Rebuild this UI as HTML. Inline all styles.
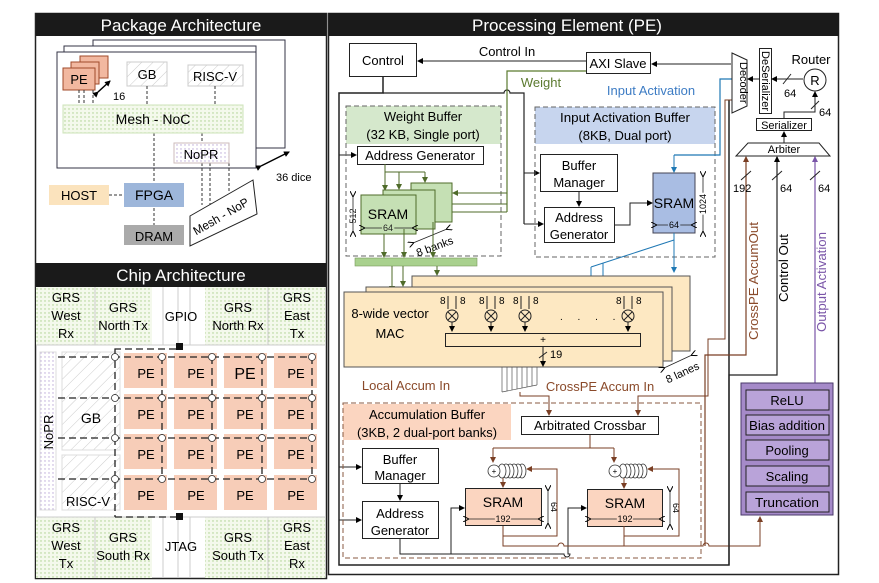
<!DOCTYPE html>
<html><head><meta charset="utf-8"><style>
html,body{margin:0;padding:0;background:#fff;}
svg{display:block;font-family:"Liberation Sans Narrow","Liberation Sans",sans-serif;}
</style></head><body>
<svg width="879" height="583" viewBox="0 0 879 583" xmlns="http://www.w3.org/2000/svg">
<defs>
<pattern id="dots" width="4" height="4" patternUnits="userSpaceOnUse"><rect width="4" height="4" fill="#f4f9ec"/><circle cx="1" cy="1" r="0.7" fill="#a9cf8a"/></pattern>
<pattern id="pdots" width="4" height="4" patternUnits="userSpaceOnUse"><rect width="4" height="4" fill="#fff"/><circle cx="1" cy="1" r="0.7" fill="#b9a6d6"/></pattern>
<pattern id="hatch" width="8" height="8" patternUnits="userSpaceOnUse" patternTransform="rotate(45)"><rect width="8" height="8" fill="#fff"/><line x1="0" y1="0" x2="0" y2="8" stroke="#ccc" stroke-width="1"/></pattern>
<marker id="a" markerWidth="6" markerHeight="6" refX="5" refY="3" orient="auto" markerUnits="userSpaceOnUse"><path d="M0,0 L6,3 L0,6z" fill="#000"/></marker>
<marker id="ag" markerWidth="6" markerHeight="6" refX="5" refY="3" orient="auto" markerUnits="userSpaceOnUse"><path d="M0,0 L6,3 L0,6z" fill="#4f6b2a"/></marker>
<marker id="ab" markerWidth="6" markerHeight="6" refX="5" refY="3" orient="auto" markerUnits="userSpaceOnUse"><path d="M0,0 L6,3 L0,6z" fill="#1f78b4"/></marker>
<marker id="ar" markerWidth="6" markerHeight="6" refX="5" refY="3" orient="auto" markerUnits="userSpaceOnUse"><path d="M0,0 L6,3 L0,6z" fill="#7a3f24"/></marker>
<marker id="ap" markerWidth="6" markerHeight="6" refX="5" refY="3" orient="auto" markerUnits="userSpaceOnUse"><path d="M0,0 L6,3 L0,6z" fill="#7a55a8"/></marker>
<marker id="as" markerWidth="6" markerHeight="6" refX="1" refY="3" orient="auto-start-reverse" markerUnits="userSpaceOnUse"><path d="M6,0 L0,3 L6,6" fill="none" stroke="#000"/></marker>
</defs>

<rect x="35.5" y="13.5" width="291" height="565" fill="#fff" stroke="#222" stroke-width="1.5"/>
<rect x="36" y="13" width="290" height="23" fill="#1a1a1a"/>
<text x="181" y="31" font-size="17" fill="#fff" text-anchor="middle">Package Architecture</text>
<rect x="93" y="40" width="192" height="108" fill="#fff" stroke="#334"/>
<rect x="64" y="46" width="192" height="118" fill="#fff" stroke="#334"/>
<rect x="57" y="52" width="199" height="116" fill="#fff" stroke="#334"/>
<rect x="80" y="56" width="28" height="22" fill="#f2b8a0" stroke="#a04a2a"/>
<rect x="71" y="62" width="28" height="22" fill="#f2b8a0" stroke="#a04a2a"/>
<rect x="63" y="68" width="32" height="22" fill="#f2b8a0" stroke="#a04a2a"/>
<text x="79" y="84" font-size="13" text-anchor="middle">PE</text>
<line x1="98" y1="92" x2="110" y2="81" stroke="#000" stroke-width="1.5" marker-end="url(#a)" marker-start="url(#a)"/>
<text x="113" y="100" font-size="11">16</text>
<rect x="127" y="62" width="40" height="24" fill="url(#hatch)" stroke="#ccc"/>
<text x="147" y="79" font-size="13" text-anchor="middle">GB</text>
<rect x="188" y="65" width="55" height="21" fill="url(#hatch)" stroke="#ccc"/>
<text x="215" y="81" font-size="13" text-anchor="middle">RISC-V</text>
<g stroke="#333" stroke-dasharray="3,2"><line x1="79" y1="90" x2="79" y2="105"/><line x1="84" y1="90" x2="84" y2="105"/><line x1="93" y1="90" x2="93" y2="105"/><line x1="147" y1="86" x2="147" y2="105"/><line x1="215" y1="86" x2="215" y2="105"/><line x1="154" y1="133" x2="154" y2="225"/><line x1="202" y1="133" x2="202" y2="205"/><line x1="210" y1="163" x2="210" y2="205"/><line x1="229" y1="163" x2="229" y2="193"/><line x1="109" y1="195" x2="124" y2="195"/></g>
<rect x="63" y="105" width="180" height="28" fill="url(#dots)" stroke="#cde3b8"/>
<text x="153" y="124" font-size="14" text-anchor="middle">Mesh - NoC</text>
<rect x="174" y="143" width="55" height="20" fill="url(#pdots)" stroke="#cbb"/>
<text x="201" y="159" font-size="13" text-anchor="middle">NoPR</text>
<line x1="261" y1="166" x2="289" y2="152" stroke="#000" stroke-width="1.5" marker-end="url(#a)" marker-start="url(#a)"/>
<text x="276" y="181" font-size="11">36 dice</text>
<rect x="49" y="185" width="60" height="20" fill="#fbe3bd"/>
<text x="79" y="200" font-size="13" text-anchor="middle">HOST</text>
<rect x="124" y="183" width="60" height="24" fill="#9db6da"/>
<text x="154" y="200" font-size="14" text-anchor="middle">FPGA</text>
<rect x="124" y="225" width="60" height="20" fill="#aaa"/>
<text x="154" y="241" font-size="13" text-anchor="middle">DRAM</text>
<polygon points="190,216 253,180 257,214 190,246" fill="#fff" stroke="#222"/>
<text x="223" y="220" font-size="12" text-anchor="middle" textLength="62" lengthAdjust="spacingAndGlyphs" transform="rotate(-30 223 220)">Mesh - NoP</text>

<rect x="36" y="263" width="290" height="24" fill="#1a1a1a"/>
<text x="181" y="281" font-size="17" fill="#fff" text-anchor="middle">Chip Architecture</text>
<rect x="36" y="287" width="116" height="58" fill="url(#dots)"/>
<rect x="205" y="287" width="120" height="58" fill="url(#dots)"/>
<rect x="36" y="517" width="116" height="61" fill="url(#dots)"/>
<rect x="205" y="517" width="120" height="61" fill="url(#dots)"/>
<g stroke="#ccc"><line x1="95" y1="287" x2="95" y2="345"/><line x1="268" y1="287" x2="268" y2="345"/><line x1="95" y1="517" x2="95" y2="578"/><line x1="268" y1="517" x2="268" y2="578"/><line x1="36" y1="345" x2="326" y2="345"/><line x1="36" y1="517" x2="326" y2="517"/>
<line x1="163" y1="287" x2="163" y2="345"/><line x1="178" y1="287" x2="178" y2="345"/><line x1="190" y1="287" x2="190" y2="345"/><line x1="163" y1="517" x2="163" y2="578"/><line x1="178" y1="517" x2="178" y2="578"/><line x1="190" y1="517" x2="190" y2="578"/></g>
<g font-size="13" text-anchor="middle">
<text x="66" y="302">GRS</text><text x="66" y="320">West</text><text x="66" y="338">Rx</text>
<text x="123" y="312">GRS</text><text x="123" y="330">North Tx</text>
<text x="181" y="321">GPIO</text>
<text x="238" y="312">GRS</text><text x="238" y="330">North Rx</text>
<text x="297" y="302">GRS</text><text x="297" y="320">East</text><text x="297" y="338">Tx</text>
<text x="66" y="532">GRS</text><text x="66" y="550">West</text><text x="66" y="568">Tx</text>
<text x="123" y="542">GRS</text><text x="123" y="560">South Rx</text>
<text x="181" y="551">JTAG</text>
<text x="238" y="542">GRS</text><text x="238" y="560">South Tx</text>
<text x="297" y="532">GRS</text><text x="297" y="550">East</text><text x="297" y="568">Rx</text>
</g>
<rect x="40" y="352" width="16" height="158" fill="url(#pdots)" stroke="#ddd"/>
<text x="53" y="432" font-size="13" text-anchor="middle" transform="rotate(-90 53 432)">NoPR</text>
<rect x="62" y="352" width="58" height="98" fill="url(#hatch)" stroke="#ddd"/>
<text x="91" y="423" font-size="14" text-anchor="middle">GB</text>
<rect x="62" y="455" width="58" height="55" fill="url(#hatch)" stroke="#ddd"/>
<text x="88" y="506" font-size="13" text-anchor="middle">RISC-V</text>
<g fill="#f7cdb8">
<rect x="124" y="353" width="43" height="35"/><rect x="174" y="353" width="43" height="35"/><rect x="224" y="353" width="43" height="35"/><rect x="274" y="353" width="43" height="35"/>
<rect x="124" y="394" width="43" height="35"/><rect x="174" y="394" width="43" height="35"/><rect x="224" y="394" width="43" height="35"/><rect x="274" y="394" width="43" height="35"/>
<rect x="124" y="434" width="43" height="35"/><rect x="174" y="434" width="43" height="35"/><rect x="224" y="434" width="43" height="35"/><rect x="274" y="434" width="43" height="35"/>
<rect x="124" y="475" width="43" height="35"/><rect x="174" y="475" width="43" height="35"/><rect x="224" y="475" width="43" height="35"/><rect x="274" y="475" width="43" height="35"/>
</g>
<g font-size="13" text-anchor="middle">
<text x="146" y="378">PE</text><text x="196" y="378">PE</text><text x="245" y="379" font-size="16">PE</text><text x="296" y="378">PE</text>
<text x="146" y="419">PE</text><text x="196" y="419">PE</text><text x="245" y="419">PE</text><text x="296" y="419">PE</text>
<text x="146" y="459">PE</text><text x="196" y="459">PE</text><text x="245" y="459">PE</text><text x="296" y="459">PE</text>
<text x="146" y="500">PE</text><text x="196" y="500">PE</text><text x="245" y="500">PE</text><text x="296" y="500">PE</text>
</g>
<g stroke="#222" stroke-width="1.3" stroke-dasharray="7,4" fill="none">
<line x1="58" y1="357" x2="312" y2="357"/><line x1="58" y1="398" x2="312" y2="398"/><line x1="58" y1="438" x2="312" y2="438"/><line x1="58" y1="479" x2="312" y2="479"/>
<line x1="115" y1="350" x2="115" y2="517"/><line x1="162" y1="357" x2="162" y2="479"/><line x1="212" y1="357" x2="212" y2="479"/><line x1="262" y1="357" x2="262" y2="479"/><line x1="312" y1="357" x2="312" y2="479"/>
<polyline points="115,350 115,349 180,349"/><polyline points="115,517 180,517"/>
</g>
<rect x="176" y="343" width="7" height="7" fill="#111"/><rect x="176" y="513" width="7" height="7" fill="#111"/>
<g fill="#fff" stroke="#333" stroke-width="0.8">
<circle cx="115" cy="357" r="3.5"/><circle cx="162" cy="357" r="3.5"/><circle cx="212" cy="357" r="3.5"/><circle cx="262" cy="357" r="3.5"/><circle cx="312" cy="357" r="3.5"/>
<circle cx="115" cy="398" r="3.5"/><circle cx="162" cy="398" r="3.5"/><circle cx="212" cy="398" r="3.5"/><circle cx="262" cy="398" r="3.5"/><circle cx="312" cy="398" r="3.5"/>
<circle cx="115" cy="438" r="3.5"/><circle cx="162" cy="438" r="3.5"/><circle cx="212" cy="438" r="3.5"/><circle cx="262" cy="438" r="3.5"/><circle cx="312" cy="438" r="3.5"/>
<circle cx="115" cy="479" r="3.5"/><circle cx="162" cy="479" r="3.5"/><circle cx="212" cy="479" r="3.5"/><circle cx="262" cy="479" r="3.5"/><circle cx="312" cy="479" r="3.5"/>
</g>

<rect x="328.5" y="13.5" width="510" height="561" fill="#fff" stroke="#222" stroke-width="1.5"/>
<rect x="329" y="13" width="510" height="23" fill="#1a1a1a"/>
<text x="567" y="31" font-size="17" fill="#fff" text-anchor="middle">Processing Element (PE)</text>

<rect x="349.5" y="43.5" width="67" height="33" fill="#fff" stroke="#222"/>
<text x="383" y="65" font-size="13" text-anchor="middle">Control</text>
<text x="507" y="56" font-size="13" text-anchor="middle">Control In</text>
<line x1="586" y1="61" x2="418" y2="61" stroke="#222" marker-end="url(#a)"/>
<rect x="586.5" y="52.5" width="64" height="21" fill="#fff" stroke="#222"/>
<text x="618" y="68" font-size="13" text-anchor="middle">AXI Slave</text>
<line x1="731" y1="64" x2="652" y2="64" stroke="#222" marker-end="url(#a)"/>
<text x="541" y="87" font-size="13" fill="#5b7a2f" text-anchor="middle">Weight</text>
<text x="651" y="95" font-size="13" fill="#3d7cc4" text-anchor="middle">Input Activation</text>

<polyline points="383,77 383,93 339,93 339,565 729,565 729,100" fill="none" stroke="#222" stroke-width="1.5"/>
<path d="M383,93 L504,93 A3,3 0 0 1 510,93 L524,93 L524,224" fill="none" stroke="#222" stroke-width="1.2"/>
<line x1="524" y1="173" x2="539" y2="173" stroke="#222" marker-end="url(#a)"/>
<line x1="524" y1="224" x2="543" y2="224" stroke="#222" marker-end="url(#a)"/>
<line x1="339" y1="155" x2="356" y2="155" stroke="#222" marker-end="url(#a)"/>
<line x1="339" y1="467" x2="361" y2="467" stroke="#222" marker-end="url(#a)"/>
<line x1="339" y1="520" x2="361" y2="520" stroke="#222" marker-end="url(#a)"/>

<rect x="346" y="106" width="155" height="38" fill="#d5e8cc"/>
<rect x="346" y="106" width="155" height="150" fill="none" stroke="#666" stroke-dasharray="5,3"/>
<text x="423" y="121" font-size="13" text-anchor="middle">Weight Buffer</text>
<text x="423" y="139" font-size="13" text-anchor="middle">(32 KB, Single port)</text>
<rect x="357.5" y="146.5" width="126" height="18" fill="#fff" stroke="#222"/>
<text x="420" y="160" font-size="13" text-anchor="middle">Address Generator</text>
<polyline points="586,71 507,71 507,212" fill="none" stroke="#5b7a2f" stroke-width="1.2"/>
<line x1="507" y1="193" x2="453" y2="193" stroke="#4f6b2a" marker-end="url(#ag)"/>
<line x1="507" y1="204" x2="436" y2="204" stroke="#4f6b2a" marker-end="url(#ag)"/>
<line x1="507" y1="212" x2="417" y2="212" stroke="#4f6b2a" marker-end="url(#ag)"/>
<polyline points="385,164 385,172 425,172" fill="none" stroke="#4f6b2a"/>
<line x1="385" y1="172" x2="385" y2="190" stroke="#4f6b2a" marker-end="url(#ag)"/>
<line x1="399" y1="172" x2="399" y2="189" stroke="#4f6b2a" marker-end="url(#ag)"/>
<line x1="425" y1="172" x2="425" y2="182" stroke="#4f6b2a" marker-end="url(#ag)"/>
<rect x="411" y="183" width="41" height="39" fill="#c5e0b4" stroke="#4f6b2a"/>
<rect x="383" y="190" width="52" height="39" fill="#c5e0b4" stroke="#4f6b2a"/>
<rect x="361" y="195" width="55" height="39" fill="#c5e0b4" stroke="#4f6b2a"/>
<text x="388" y="219" font-size="14" text-anchor="middle">SRAM</text>
<line x1="364" y1="228" x2="413" y2="228" stroke="#222" stroke-width="0.8" marker-start="url(#as)" marker-end="url(#as)"/>
<text x="388" y="231" font-size="9" text-anchor="middle" fill="#222" style="paint-order:stroke" stroke="#c5e0b4" stroke-width="3">64</text>
<line x1="353" y1="196" x2="353" y2="232" stroke="#222" stroke-width="0.8" marker-start="url(#as)" marker-end="url(#as)"/>
<text x="356" y="216" font-size="9" text-anchor="middle" transform="rotate(-90 356 216)" fill="#222">512</text>
<line x1="413" y1="243" x2="447" y2="229" stroke="#222" stroke-width="0.8" marker-start="url(#as)" marker-end="url(#as)"/>
<text x="436" y="250" font-size="11" text-anchor="middle" transform="rotate(-20 436 250)">8 banks</text>
<g stroke="#4f6b2a"><line x1="384" y1="234" x2="384" y2="257" marker-end="url(#ag)"/><line x1="404" y1="229" x2="404" y2="257" marker-end="url(#ag)"/><line x1="433" y1="222" x2="433" y2="257" marker-end="url(#ag)"/></g>
<rect x="355" y="258" width="122" height="8" fill="#a9d18e" stroke="#7a9a5a" stroke-width="0.6"/>
<g stroke="#4f6b2a"><line x1="392" y1="266" x2="392" y2="291" marker-end="url(#ag)"/><line x1="403" y1="266" x2="403" y2="286" marker-end="url(#ag)"/><line x1="437" y1="266" x2="437" y2="275" marker-end="url(#ag)"/></g>

<rect x="535" y="107" width="180" height="37" fill="#c7d5ee"/>
<rect x="535" y="107" width="180" height="150" fill="none" stroke="#666" stroke-dasharray="5,3"/>
<text x="625" y="122" font-size="13" text-anchor="middle" textLength="130" lengthAdjust="spacingAndGlyphs">Input Activation Buffer</text>
<text x="625" y="140" font-size="13" text-anchor="middle">(8KB, Dual port)</text>
<rect x="540.5" y="154.5" width="77" height="37" fill="#fff" stroke="#222"/>
<text x="579" y="170" font-size="13" text-anchor="middle">Buffer</text>
<text x="579" y="187" font-size="13" text-anchor="middle">Manager</text>
<line x1="579" y1="192" x2="579" y2="206" stroke="#222" marker-end="url(#a)"/>
<rect x="544.5" y="207.5" width="70" height="35" fill="#fff" stroke="#222"/>
<text x="579" y="222" font-size="13" text-anchor="middle">Address</text>
<text x="579" y="239" font-size="13" text-anchor="middle">Generator</text>
<polyline points="615,225 630,225 630,203 652,203" fill="none" stroke="#222" marker-end="url(#a)"/>
<rect x="653" y="173" width="42" height="60" fill="#a9bde3" stroke="#445"/>
<text x="674" y="208" font-size="14" text-anchor="middle">SRAM</text>
<line x1="656" y1="225" x2="692" y2="225" stroke="#222" stroke-width="0.8" marker-start="url(#as)" marker-end="url(#as)"/>
<text x="674" y="228" font-size="9" text-anchor="middle" style="paint-order:stroke" stroke="#a9bde3" stroke-width="3">64</text>
<line x1="703" y1="176" x2="703" y2="232" stroke="#222" stroke-width="0.8" marker-start="url(#as)" marker-end="url(#as)"/>
<text x="706" y="204" font-size="9" text-anchor="middle" transform="rotate(-90 706 204)" style="paint-order:stroke" stroke="#fff" stroke-width="3">1024</text>
<polyline points="732,79 720,79 720,155 674,155" fill="none" stroke="#1f78b4" stroke-width="1.2"/>
<line x1="674" y1="155" x2="674" y2="172" stroke="#1f78b4" marker-end="url(#ab)"/>
<line x1="674" y1="233" x2="674" y2="272" stroke="#1f78b4" marker-end="url(#ab)"/>
<polyline points="674,240 591,267" fill="none" stroke="#1f78b4"/>
<line x1="591" y1="267" x2="591" y2="291" stroke="#1f78b4" marker-end="url(#ab)"/>
<line x1="603" y1="263" x2="603" y2="285" stroke="#1f78b4" marker-end="url(#ab)"/>

<rect x="412" y="276" width="278" height="75" fill="#fde8c2" stroke="#555"/>
<rect x="366" y="287" width="306" height="74" fill="#fde8c2" stroke="#555"/>
<rect x="344" y="292" width="319" height="75" fill="#fde8c2" stroke="#555"/>
<text x="390" y="318" font-size="13" text-anchor="middle">8-wide vector</text>
<text x="390" y="338" font-size="13" text-anchor="middle">MAC</text>
<g font-size="10" stroke="#222" fill="none">
<g transform="translate(452,0)"><circle cx="0" cy="316" r="6"/><path d="M-4,312 L4,320 M4,312 L-4,320"/><line x1="-4" y1="296" x2="-4" y2="309"/><line x1="4" y1="296" x2="4" y2="309"/><line x1="0" y1="322" x2="0" y2="331" marker-end="url(#a)"/></g>
<g transform="translate(491,0)"><circle cx="0" cy="316" r="6"/><path d="M-4,312 L4,320 M4,312 L-4,320"/><line x1="-4" y1="296" x2="-4" y2="309"/><line x1="4" y1="296" x2="4" y2="309"/><line x1="0" y1="322" x2="0" y2="331" marker-end="url(#a)"/></g>
<g transform="translate(525,0)"><circle cx="0" cy="316" r="6"/><path d="M-4,312 L4,320 M4,312 L-4,320"/><line x1="-4" y1="296" x2="-4" y2="309"/><line x1="4" y1="296" x2="4" y2="309"/><line x1="0" y1="322" x2="0" y2="331" marker-end="url(#a)"/></g>
<g transform="translate(628,0)"><circle cx="0" cy="316" r="6"/><path d="M-4,312 L4,320 M4,312 L-4,320"/><line x1="-4" y1="296" x2="-4" y2="309"/><line x1="4" y1="296" x2="4" y2="309"/><line x1="0" y1="322" x2="0" y2="331" marker-end="url(#a)"/></g>
</g>
<g font-size="10">
<text x="440" y="304">8</text><text x="460" y="304">8</text>
<text x="479" y="304">8</text><text x="499" y="304">8</text>
<text x="513" y="304">8</text><text x="533" y="304">8</text>
<text x="616" y="304">8</text><text x="636" y="304">8</text>
<text x="560" y="320" letter-spacing="6">. . . . .</text>
</g>
<rect x="445.5" y="333.5" width="195" height="13" fill="#fde8c2" stroke="#222"/>
<text x="543" y="343" font-size="10" text-anchor="middle">+</text>
<line x1="543" y1="347" x2="543" y2="366" stroke="#222" marker-end="url(#a)"/>
<line x1="539" y1="358" x2="547" y2="352" stroke="#222"/>
<text x="550" y="358" font-size="11">19</text>
<line x1="664" y1="368" x2="692" y2="355" stroke="#222" stroke-width="0.8" marker-start="url(#as)" marker-end="url(#as)"/>
<text x="684" y="376" font-size="11" text-anchor="middle" transform="rotate(-25 684 376)">8 lanes</text>
<g stroke="#555" stroke-width="0.7"><line x1="502" y1="367" x2="502" y2="392"/><line x1="507" y1="367" x2="507" y2="391"/><line x1="512" y1="367" x2="512" y2="390"/><line x1="517" y1="367" x2="517" y2="389"/><line x1="522" y1="367" x2="522" y2="388"/><line x1="527" y1="367" x2="527" y2="387"/><line x1="532" y1="367" x2="532" y2="386"/><line x1="537" y1="367" x2="537" y2="385"/><line x1="502" y1="392" x2="537" y2="385"/></g>
<text x="406" y="390" font-size="13" fill="#8a4a2a" text-anchor="middle">Local Accum In</text>
<text x="600" y="391" font-size="13" fill="#8a4a2a" text-anchor="middle">CrossPE Accum In</text>

<polyline points="520,392 520,396 549,396 549,415" fill="none" stroke="#7a3f24" marker-end="url(#ar)"/>
<polyline points="732,100 725,100 725,339 708,339 708,396 638,396 638,415" fill="none" stroke="#7a3f24" marker-end="url(#ar)"/>

<rect x="343" y="404" width="168" height="36" fill="#fbd5c0"/>
<rect x="343" y="403" width="358" height="155" fill="none" stroke="#8a5a40" stroke-dasharray="5,3"/>
<text x="427" y="419" font-size="13" text-anchor="middle">Accumulation Buffer</text>
<text x="427" y="437" font-size="13" text-anchor="middle" textLength="140" lengthAdjust="spacingAndGlyphs">(3KB, 2 dual-port banks)</text>
<rect x="521.5" y="416.5" width="137" height="18" fill="#fff" stroke="#222"/>
<text x="590" y="430" font-size="13" text-anchor="middle" textLength="112" lengthAdjust="spacingAndGlyphs">Arbitrated Crossbar</text>
<polyline points="590,435 590,448 493,448" fill="none" stroke="#7a3f24"/>
<line x1="493" y1="448" x2="493" y2="462" stroke="#7a3f24" marker-end="url(#ar)"/>
<polyline points="590,448 614,448" fill="none" stroke="#7a3f24"/>
<line x1="614" y1="448" x2="614" y2="462" stroke="#7a3f24" marker-end="url(#ar)"/>
<rect x="362.5" y="448.5" width="76" height="35" fill="#fff" stroke="#222"/>
<text x="400" y="464" font-size="13" text-anchor="middle">Buffer</text>
<text x="400" y="480" font-size="13" text-anchor="middle">Manager</text>
<line x1="400" y1="484" x2="400" y2="500" stroke="#222" marker-end="url(#a)"/>
<rect x="362.5" y="501.5" width="76" height="37" fill="#fff" stroke="#222"/>
<text x="400" y="518" font-size="13" text-anchor="middle">Address</text>
<text x="400" y="535" font-size="13" text-anchor="middle">Generator</text>
<path d="M400,539 L400,554 L451,554 L451,508 L464,508" fill="none" stroke="#222" marker-end="url(#a)"/>
<path d="M451,554 L564,554 A3,3 0 0 0 570,554 L568,554 L568,508 L586,508" fill="none" stroke="#222" marker-end="url(#a)"/>
<g fill="#fff" stroke="#333" stroke-width="0.8">
<ellipse cx="522" cy="471" rx="4" ry="7"/><ellipse cx="518" cy="471" rx="4" ry="7"/><ellipse cx="514" cy="471" rx="4" ry="7"/><ellipse cx="510" cy="471" rx="4" ry="7"/><ellipse cx="506" cy="471" rx="4" ry="7"/><ellipse cx="502" cy="471" rx="4" ry="7"/><circle cx="494" cy="471" r="6"/>
<ellipse cx="643" cy="471" rx="4" ry="7"/><ellipse cx="639" cy="471" rx="4" ry="7"/><ellipse cx="635" cy="471" rx="4" ry="7"/><ellipse cx="631" cy="471" rx="4" ry="7"/><ellipse cx="627" cy="471" rx="4" ry="7"/><ellipse cx="623" cy="471" rx="4" ry="7"/><circle cx="615" cy="471" r="6"/>
</g>
<text x="494" y="474" font-size="8" text-anchor="middle">+</text><text x="615" y="474" font-size="8" text-anchor="middle">+</text>
<line x1="503" y1="478" x2="503" y2="487" stroke="#7a3f24" marker-end="url(#ar)"/>
<line x1="624" y1="478" x2="624" y2="488" stroke="#7a3f24" marker-end="url(#ar)"/>
<rect x="465.5" y="488.5" width="76" height="37" fill="#fbd5c0" stroke="#222"/>
<text x="503" y="507" font-size="14" text-anchor="middle">SRAM</text>
<line x1="468" y1="519" x2="539" y2="519" stroke="#222" stroke-width="0.8" marker-start="url(#as)" marker-end="url(#as)"/>
<text x="503" y="522" font-size="9" text-anchor="middle" style="paint-order:stroke" stroke="#fbd5c0" stroke-width="3">192</text>
<line x1="548" y1="490" x2="548" y2="524" stroke="#222" stroke-width="0.8" marker-start="url(#as)" marker-end="url(#as)"/>
<text x="551" y="507" font-size="9" text-anchor="middle" transform="rotate(90 551 507)">64</text>
<rect x="587.5" y="489.5" width="75" height="37" fill="#fbd5c0" stroke="#222"/>
<text x="625" y="508" font-size="14" text-anchor="middle">SRAM</text>
<line x1="590" y1="519" x2="660" y2="519" stroke="#222" stroke-width="0.8" marker-start="url(#as)" marker-end="url(#as)"/>
<text x="625" y="522" font-size="9" text-anchor="middle" style="paint-order:stroke" stroke="#fbd5c0" stroke-width="3">192</text>
<line x1="670" y1="491" x2="670" y2="525" stroke="#222" stroke-width="0.8" marker-start="url(#as)" marker-end="url(#as)"/>
<text x="673" y="508" font-size="9" text-anchor="middle" transform="rotate(90 673 508)">64</text>
<polyline points="503,526 503,536 557,536 557,469 527,469" fill="none" stroke="#7a3f24" marker-end="url(#ar)"/>
<polyline points="624,526 624,536 679,536 679,469 648,469" fill="none" stroke="#7a3f24" marker-end="url(#ar)"/>
<path d="M503,536 L503,546 L558,546 A3,3 0 0 1 564,546 L624,546 L624,536" fill="none" stroke="#7a3f24"/>
<path d="M624,546 L703,546 A3,3 0 0 1 709,546 L760,546 L760,517" fill="none" stroke="#7a3f24" marker-end="url(#ar)"/>
<polyline points="705,546 705,355 746,355 746,157" fill="none" stroke="#7a3f24" stroke-width="1.2" marker-end="url(#ar)"/>
<polyline points="729,565 729,375 777,375 777,157" fill="none" stroke="#222" stroke-width="1.2" marker-end="url(#a)"/>
<line x1="815" y1="383" x2="815" y2="157" stroke="#7a55a8" stroke-width="1.2" marker-end="url(#ap)"/>
<g stroke="#222"><line x1="741" y1="180" x2="751" y2="171"/><line x1="772" y1="180" x2="782" y2="171"/><line x1="810" y1="180" x2="820" y2="171"/></g>
<text x="733" y="192" font-size="11">192</text><text x="780" y="192" font-size="11">64</text><text x="818" y="192" font-size="11">64</text>
<text x="758" y="340" font-size="13" fill="#8a4a2a" textLength="118" lengthAdjust="spacingAndGlyphs" transform="rotate(-90 758 340)">CrossPE AccumOut</text>
<text x="788" y="302" font-size="13" textLength="68" lengthAdjust="spacingAndGlyphs" transform="rotate(-90 788 302)">Control Out</text>
<text x="826" y="332" font-size="13" fill="#7a55a8" textLength="100" lengthAdjust="spacingAndGlyphs" transform="rotate(-90 826 332)">Output Activation</text>

<rect x="741" y="383" width="92" height="132" fill="#a58ac9" stroke="#4a3a6a"/>
<g fill="#b9a3d9" stroke="#222"><rect x="746" y="390" width="83" height="20"/><rect x="746" y="415" width="83" height="20"/><rect x="746" y="440" width="83" height="20"/><rect x="746" y="466" width="83" height="20"/><rect x="746" y="492" width="83" height="20"/></g>
<g font-size="13" text-anchor="middle"><text x="787" y="405">ReLU</text><text x="787" y="430" textLength="76" lengthAdjust="spacingAndGlyphs">Bias addition</text><text x="787" y="455">Pooling</text><text x="787" y="481">Scaling</text><text x="787" y="507" textLength="64" lengthAdjust="spacingAndGlyphs">Truncation</text></g>

<polygon points="732,53 747,60 747,106 732,113" fill="#fff" stroke="#222"/>
<text x="740" y="62" font-size="11" transform="rotate(90 740 62)">Decoder</text>
<rect x="759.5" y="48.5" width="12" height="65" fill="#fff" stroke="#222"/>
<text x="762" y="51" font-size="11" textLength="60" lengthAdjust="spacingAndGlyphs" transform="rotate(90 762 51)">DeSerializer</text>
<line x1="759" y1="79" x2="748" y2="79" stroke="#222" marker-end="url(#a)"/>
<line x1="803" y1="79" x2="772" y2="79" stroke="#222" marker-end="url(#a)"/>
<line x1="783" y1="84" x2="791" y2="74" stroke="#222"/>
<text x="784" y="97" font-size="11">64</text>
<circle cx="815" cy="80" r="11" fill="#fff" stroke="#222"/>
<text x="815" y="85" font-size="13" text-anchor="middle">R</text>
<text x="811" y="64" font-size="13" text-anchor="middle">Router</text>
<polyline points="784,118 784,112 815,112 815,92" fill="none" stroke="#222" marker-end="url(#a)"/>
<line x1="811" y1="109" x2="819" y2="101" stroke="#222"/>
<text x="819" y="116" font-size="11">64</text>
<rect x="756.5" y="118.5" width="55" height="12" fill="#fff" stroke="#222"/>
<text x="784" y="129" font-size="11" text-anchor="middle">Serializer</text>
<line x1="784" y1="143" x2="784" y2="132" stroke="#222" marker-end="url(#a)"/>
<polygon points="748,143 819,143 830,156 736,156" fill="#fff" stroke="#222"/>
<text x="784" y="153" font-size="11" text-anchor="middle">Arbiter</text>
</svg>
</body></html>
